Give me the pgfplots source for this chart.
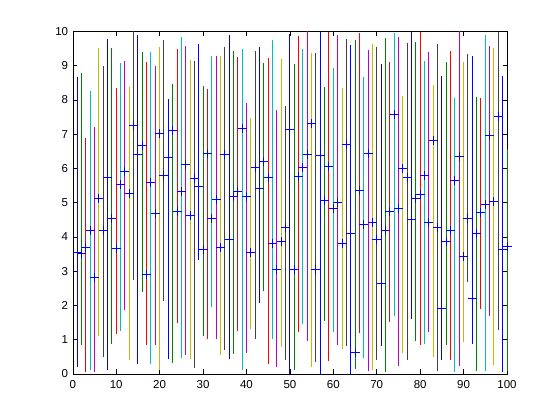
\documentclass[border=0pt]{standalone}
\usepackage{pgfplots}
\pgfplotsset{compat=1.18}
\usepackage{pgfplotstable}
\usepackage{fontspec}
\setmainfont{Liberation Sans}
\definecolor{mblue}{rgb}{0,0,1}
\pgfplotstableread{
x lo hi mid c
1 0.21 8.66 3.53 0
2 0.85 8.78 3.51 1
3 0.06 6.89 3.69 2
4 0.12 8.26 4.19 3
5 0.04 7.21 2.82 4
6 1.09 9.51 5.13 5
7 0.48 8.99 4.19 6
8 0.12 9.78 5.73 0
9 0.88 9.51 4.55 1
10 1.17 8.34 3.65 2
11 1.26 9.07 5.52 3
12 1.85 9.13 5.91 4
13 0.41 8.37 5.27 5
14 2.73 10.0 7.25 6
15 0.29 9.89 6.40 0
16 2.38 9.40 6.67 1
17 0.85 9.10 2.91 2
18 0.29 9.40 5.58 3
19 0.85 8.99 4.68 4
20 0.12 9.54 7.02 5
21 2.12 9.75 5.80 6
22 0.42 8.02 6.33 0
23 0.33 8.46 7.11 1
24 1.49 9.48 4.73 2
25 0.45 9.83 5.32 3
26 0.54 9.57 6.11 4
27 0.42 9.16 4.63 5
28 0.16 9.13 5.70 6
29 3.31 9.63 5.47 0
30 1.09 8.40 3.63 1
31 1.01 8.31 6.43 2
32 1.94 9.28 4.55 3
33 1.01 9.28 5.10 4
34 0.54 9.27 3.69 5
35 0.70 9.54 6.40 6
36 0.42 9.89 3.92 0
37 0.58 9.42 5.18 1
38 1.24 9.25 5.33 2
39 0.10 9.48 7.16 3
40 0.62 7.90 5.18 4
41 1.31 7.48 3.53 5
42 1.03 9.42 6.02 6
43 2.06 9.54 5.41 0
44 2.41 9.07 6.20 1
45 0.29 9.22 5.73 2
46 1.03 9.75 3.82 3
47 0.19 7.71 3.04 4
48 0.78 9.19 3.87 5
49 0.41 7.82 4.26 6
50 0.00 9.92 7.13 0
51 0.12 9.04 3.04 1
52 1.21 9.86 5.76 2
53 1.45 9.48 6.02 3
54 0.95 10.0 6.40 4
55 0.19 9.37 7.31 5
56 0.34 9.37 3.06 6
57 0.00 9.98 6.37 0
58 1.53 8.37 5.07 1
59 0.36 9.98 6.05 2
60 1.23 8.93 4.84 3
61 0.84 9.89 5.01 4
62 0.72 8.34 3.82 5
63 0.80 9.78 6.70 6
64 0.00 9.60 4.09 0
65 0.15 9.75 0.63 1
66 1.18 9.95 5.35 2
67 0.45 8.66 4.36 3
68 0.07 9.45 6.43 4
69 0.10 9.63 4.41 5
70 0.41 9.54 3.92 6
71 0.80 9.04 2.65 0
72 0.04 9.81 4.19 1
73 1.50 9.10 4.73 2
74 1.70 9.95 7.57 3
75 0.24 9.83 4.84 4
76 0.62 8.11 5.99 5
77 0.39 9.66 5.73 6
78 1.60 9.98 4.52 0
79 0.95 9.69 5.11 1
80 0.83 9.98 5.24 2
81 0.86 9.13 5.79 3
82 1.21 9.40 4.41 4
83 0.48 8.43 6.81 5
84 0.07 9.63 4.26 6
85 0.41 8.69 1.92 0
86 0.85 9.10 3.87 1
87 0.39 9.42 4.19 2
88 0.04 8.05 5.64 3
89 0.24 10.0 6.35 4
90 0.92 9.10 3.43 5
91 2.67 9.34 4.55 6
92 0.86 9.28 2.21 0
93 0.07 8.08 4.11 1
94 1.90 8.05 4.70 2
95 0.07 9.89 4.96 3
96 1.70 9.57 6.96 4
97 0.27 9.51 5.02 5
98 1.27 9.98 7.51 6
99 0.04 8.69 3.63 0
100 0.07 6.56 3.72 1
}\data
\begin{document}
\begin{tikzpicture}
\path[use as bounding box] (-72.8pt,-46.2pt) rectangle (487.2pt,373.8pt);
\fill[white] (-72.8pt,-46.2pt) rectangle (487.2pt,373.8pt);
\begin{axis}[
  at={(0,0)}, anchor=south west,
  scale only axis, width=434.2pt, height=342.3pt,
  xmin=0, xmax=100, ymin=0, ymax=10,
  xtick={0,10,...,100}, ytick={0,1,...,10},
  tick align=inside, major tick length=4.3pt,
  axis line style={line width=0.5pt},
  tick style={black, line width=0.5pt},
  ticklabel style={font=\fontsize{11.5}{13}\selectfont},
  /pgf/number format/assume math mode=true,
  xticklabel style={yshift=-3pt},
  yticklabel style={xshift=-1.2pt},
  colormap={mlold}{rgb=(0,0,1) rgb=(0,0.5,0) rgb=(1,0,0) rgb=(0,0.75,0.75)
    rgb=(0.75,0,0.75) rgb=(0.75,0.75,0) rgb=(0.25,0.25,0.25)},
  point meta min=0, point meta max=6,
  clip=false,
]
\addplot[no marks, point meta=explicit,
  quiver={u=0, v=\thisrow{hi}-\thisrow{lo}, colored=mapped color,
    every arrow/.append style={line width=1pt, -}}]
  table[x=x, y=lo, meta=c] {\data};
\addplot[only marks, mark=+, mark size=4.5pt, color=mblue, mark options={line width=1pt}]
  table[x=x, y=mid] {\data};
\end{axis}
\end{tikzpicture}
\end{document}
